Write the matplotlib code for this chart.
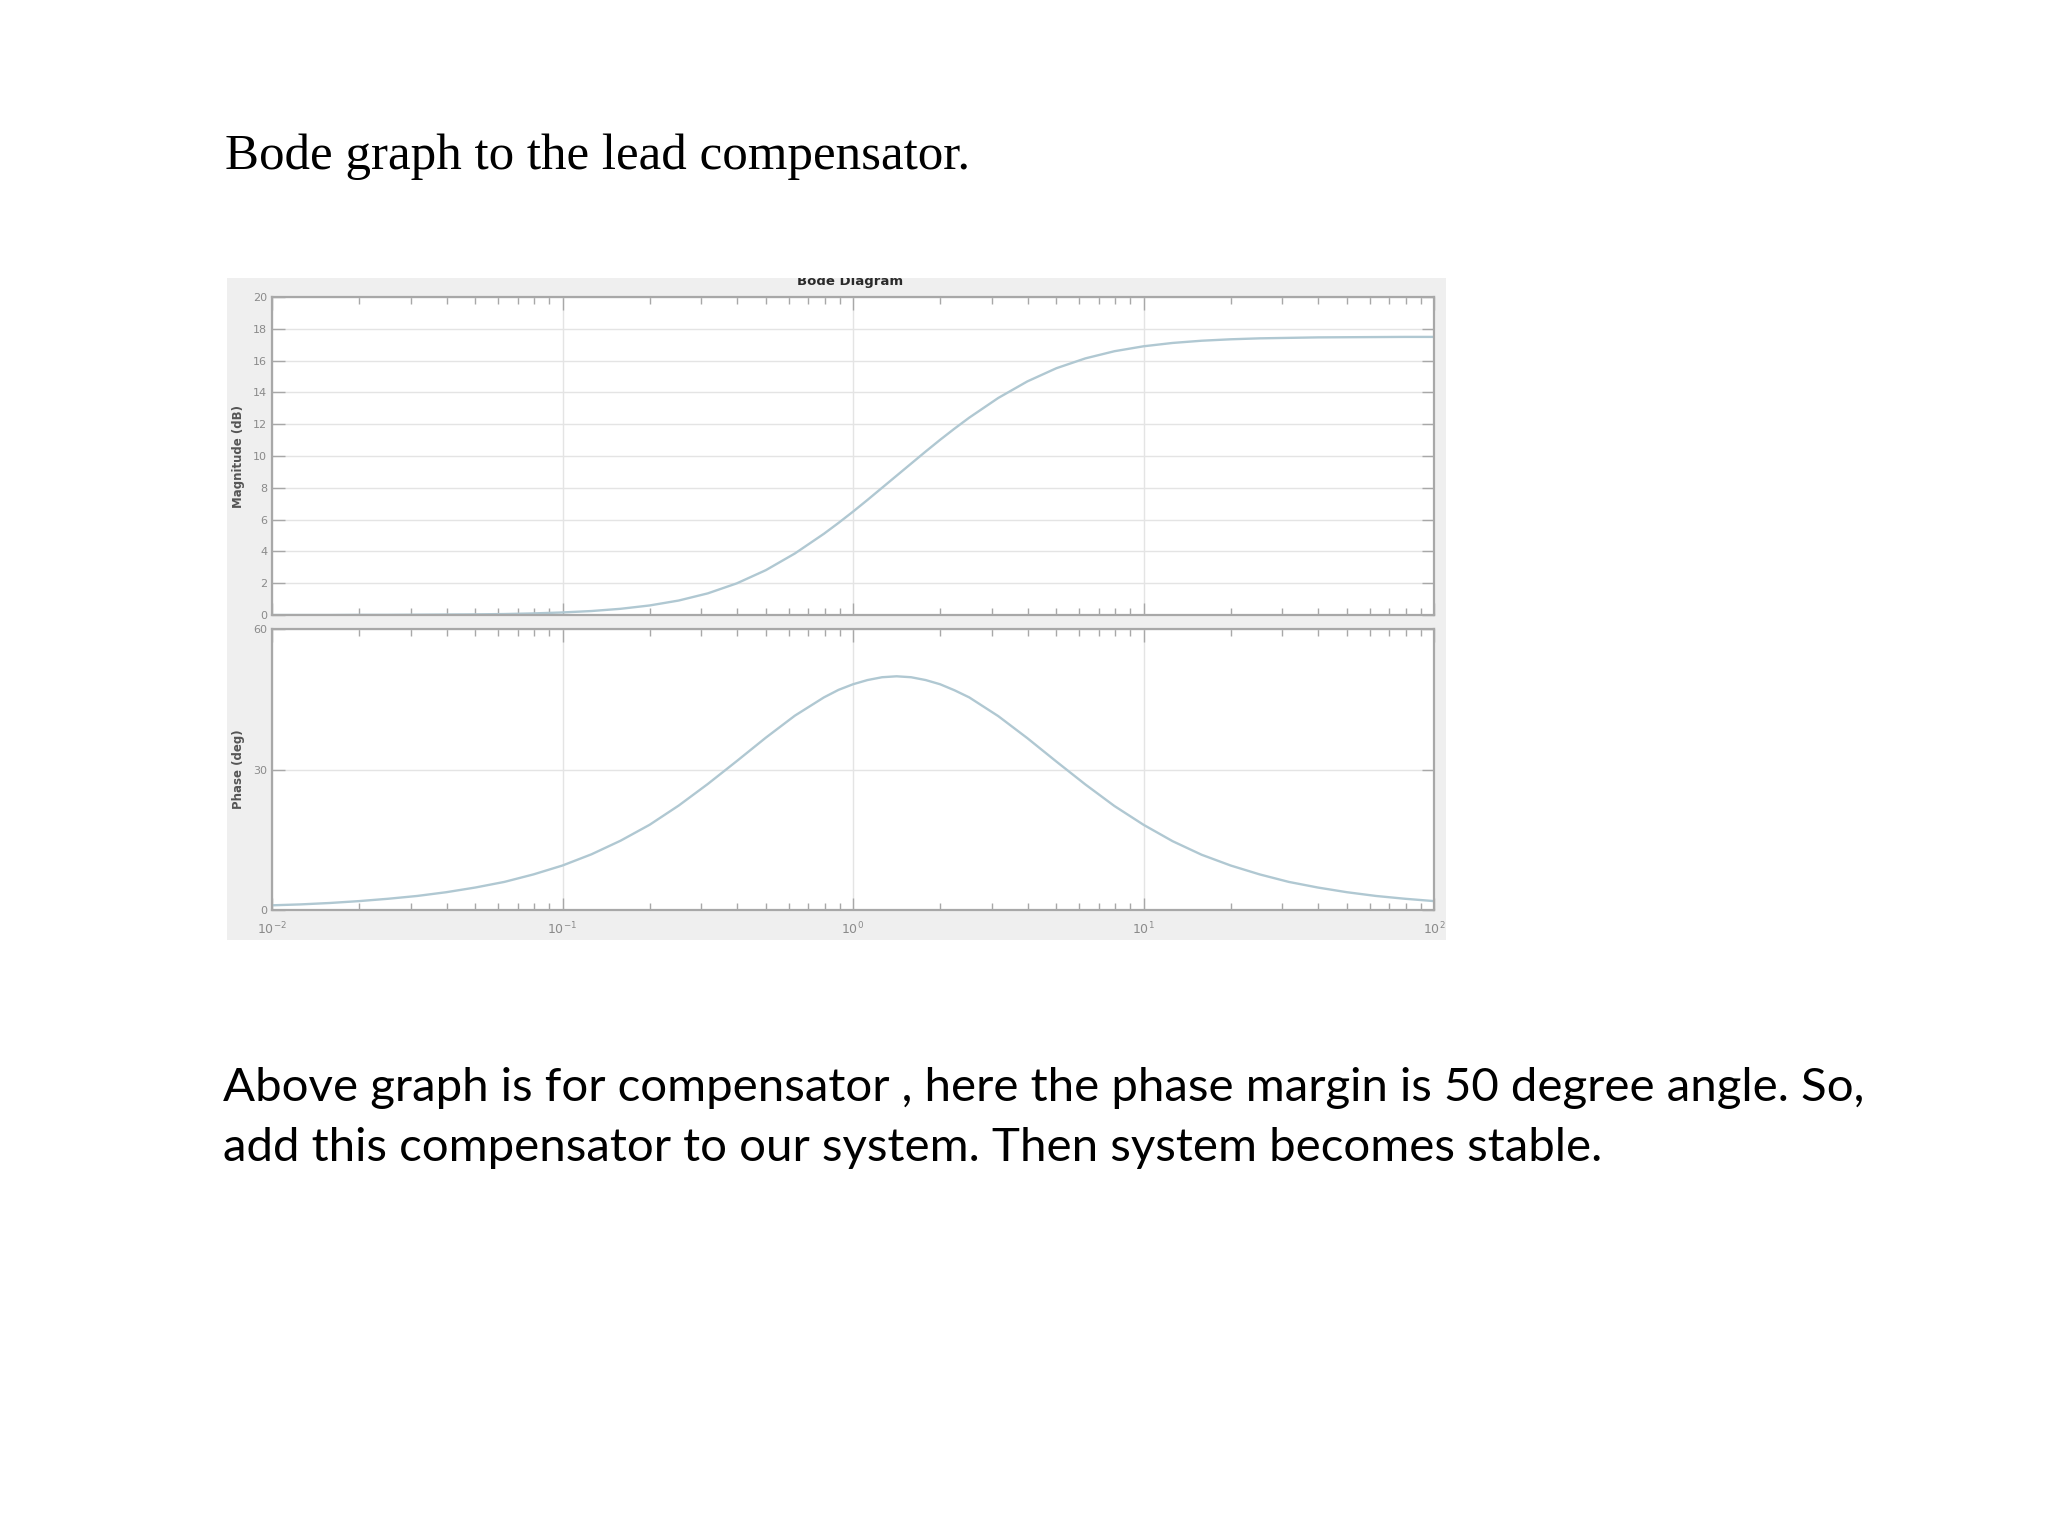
import numpy as np
import matplotlib
matplotlib.use("Agg")
import matplotlib.pyplot as plt
from matplotlib.ticker import LogLocator, NullFormatter

# frequency points (log10 of rad/s)
log_w = [-2.0, -1.9, -1.8, -1.7, -1.6, -1.5, -1.4, -1.3, -1.2, -1.1,
         -1.0, -0.9, -0.8, -0.7, -0.6, -0.5, -0.4, -0.3, -0.2, -0.1,
         -0.05, 0.0, 0.05, 0.1, 0.15, 0.2, 0.25, 0.3, 0.35, 0.4,
         0.5, 0.6, 0.7, 0.8, 0.9,
         1.0, 1.1, 1.2, 1.3, 1.4, 1.5, 1.6, 1.7, 1.8, 1.9, 2.0]

# magnitude (dB)
mag_db = [0.00, 0.00, 0.00, 0.01, 0.01, 0.02, 0.03, 0.04, 0.06, 0.10,
          0.16, 0.25, 0.39, 0.60, 0.91, 1.36, 1.99, 2.82, 3.87, 5.11,
          5.79, 6.50, 7.24, 8.00, 8.76, 9.52, 10.28, 11.02, 11.73, 12.41,
          13.65, 14.69, 15.52, 16.14, 16.59,
          16.90, 17.11, 17.25, 17.34, 17.40, 17.43, 17.46, 17.47, 17.48, 17.49, 17.49]

# phase (deg)
phase_deg = [1.0, 1.2, 1.5, 1.9, 2.4, 3.0, 3.8, 4.8, 6.0, 7.6,
             9.5, 11.9, 14.8, 18.2, 22.3, 26.9, 31.8, 36.8, 41.5, 45.4,
             47.0, 48.2, 49.1, 49.7, 49.9, 49.7, 49.1, 48.2, 46.9, 45.4,
             41.4, 36.7, 31.7, 26.8, 22.2,
             18.2, 14.7, 11.8, 9.5, 7.6, 6.0, 4.8, 3.8, 3.0, 2.4, 1.9]

mag_ticks = [0, 2, 4, 6, 8, 10, 12, 14, 16, 18, 20]
phase_ticks = [0, 30, 60]
title_txt = "Bode graph to the lead compensator."
body_lines = ["Above graph is for compensator , here the phase margin is 50 degree angle. So,",
              "add this compensator to our system. Then system becomes stable."]

W, H = 2048, 1536
fig = plt.figure(figsize=(W/100, H/100), dpi=100)
fig.patch.set_facecolor("white")

def box(x0, y0, x1, y1):
    # pixel box (top-left origin) -> figure fraction rect
    return [x0/W, 1-y1/H, (x1-x0)/W, (y1-y0)/H]

# grey matlab figure background
bg = fig.add_axes(box(227, 278, 1446, 940))
bg.set_facecolor("#efefef")
bg.set_xticks([])
bg.set_yticks([])
for s in bg.spines.values():
    s.set_visible(False)
tt = bg.text((850-227)/(1446-227), 1-(285-278)/(940-278), "Bode Diagram", transform=bg.transAxes,
             ha="center", va="baseline", fontsize=9.5, fontweight="bold", color="#2a2a2a")
tt.set_clip_box(bg.bbox)
tt.set_clip_on(True)

freq = 10 ** np.array(log_w)
line_col = "#b0c8d2"
spine_col = "#a8a8a8"
tick_col = "#8a8a8a"

ax1 = fig.add_axes(box(272, 297, 1434, 615))
ax2 = fig.add_axes(box(272, 629, 1434, 910))

for ax in (ax1, ax2):
    ax.set_xscale("log")
    ax.set_xlim(1e-2, 1e2)
    ax.xaxis.set_major_locator(LogLocator(base=10, numticks=10))
    ax.xaxis.set_minor_locator(LogLocator(base=10, subs=np.arange(2, 10), numticks=10))
    ax.xaxis.set_minor_formatter(NullFormatter())
    ax.tick_params(which="both", direction="in", top=True, right=True,
                   colors=spine_col, labelcolor=tick_col, labelsize=8)
    ax.tick_params(which="major", length=9, width=1)
    ax.tick_params(which="minor", length=5, width=1)
    ax.grid(True, which="major", color="#e4e4e4", lw=1)
    ax.set_axisbelow(True)
    for s in ax.spines.values():
        s.set_color(spine_col)
        s.set_linewidth(1.6)

ax1.plot(freq, mag_db, color=line_col, lw=1.7)
ax1.set_ylim(0, 20)
ax1.set_yticks(mag_ticks)
ax1.tick_params(labelbottom=False)
ax1.set_ylabel("Magnitude (dB)", fontsize=8.5, fontweight="bold", color="#555555", labelpad=6)

ax2.plot(freq, phase_deg, color=line_col, lw=1.7)
ax2.set_ylim(0, 60)
ax2.set_yticks(phase_ticks)
ax2.tick_params(axis="x", labelsize=9, pad=8)
ax2.set_ylabel("Phase (deg)", fontsize=8.5, fontweight="bold", color="#555555", labelpad=6)

# slide texts
def fit(t, width_px):
    fig.canvas.draw()
    bb = t.get_window_extent()
    t.set_fontsize(t.get_fontsize() * width_px / bb.width)

t0 = fig.text(225/W, 1-169/H, title_txt, family="Liberation Serif", fontsize=37,
              color="black", va="baseline", ha="left")
fit(t0, 745)

t1 = fig.text(223/W, 1-1101/H, body_lines[0], family="Lato", fontsize=30,
              color="black", va="baseline", ha="left")
fit(t1, 1640)
t2 = fig.text(223/W, 1-1161/H, body_lines[1], family="Lato", fontsize=t1.get_fontsize(),
              color="black", va="baseline", ha="left")

fig.savefig("out.png", dpi=100, facecolor="white")
